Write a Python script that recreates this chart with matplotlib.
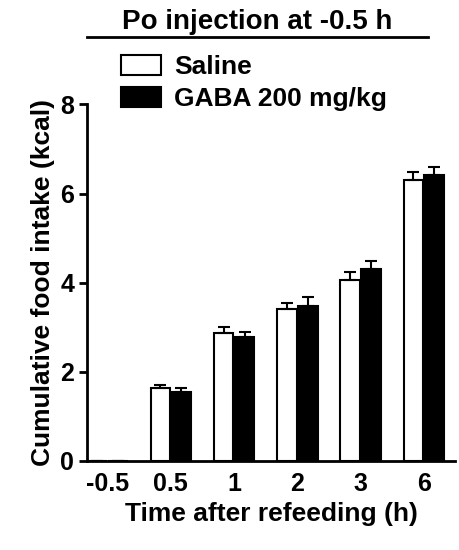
import matplotlib
matplotlib.use("Agg")
import matplotlib.pyplot as plt
import numpy as np
from matplotlib.lines import Line2D

times = ["-0.5", "0.5", "1", "2", "3", "6"]
saline = [0.0, 1.63, 2.88, 3.42, 4.06, 6.30]
saline_err = [0.0, 0.08, 0.12, 0.12, 0.18, 0.18]
gaba = [0.0, 1.55, 2.78, 3.48, 4.30, 6.42]
gaba_err = [0.0, 0.08, 0.12, 0.20, 0.18, 0.18]

plt.rcParams["font.family"] = ["Liberation Sans", "DejaVu Sans"]
plt.rcParams["font.weight"] = "bold"

fig = plt.figure(figsize=(4.6, 5.5), dpi=100)
ax = fig.add_axes([0.19, 0.162, 0.80, 0.648])

x = np.arange(len(times))
w = 0.31
err_kw = dict(ecolor="black", elinewidth=1.5, capsize=4, capthick=1.5)
ax.bar(x - w / 2 - 0.01, saline, w, color="white", edgecolor="black", linewidth=1.5,
       yerr=[np.zeros(len(x)), saline_err], error_kw=err_kw, label="Saline")
ax.bar(x + w / 2 + 0.01, gaba, w, color="black", edgecolor="black", linewidth=1.5,
       yerr=[np.zeros(len(x)), gaba_err], error_kw=err_kw, label="GABA 200 mg/kg")

ax.set_xlim(-0.32, 5.5)
ax.set_ylim(0, 8)
ax.set_yticks([0, 2, 4, 6, 8])
ax.set_xticks(x, times)
ax.tick_params(labelsize=18, width=2, length=6)
ax.tick_params(axis="x", length=0, pad=8)
for s in ("top", "right"):
    ax.spines[s].set_visible(False)
for s in ("left", "bottom"):
    ax.spines[s].set_linewidth(2)
ax.set_xlabel("Time after refeeding (h)", fontsize=19, fontweight="bold", labelpad=4)
ax.set_ylabel("Cumulative food intake (kcal)", fontsize=19, fontweight="bold", labelpad=4)

fig.text(0.56, 0.96, "Po injection at -0.5 h", ha="center", va="center",
         fontsize=20, fontweight="bold")
fig.add_artist(Line2D([0.19, 0.93], [0.932, 0.932], color="black", lw=2,
                      transform=fig.transFigure))
fig.legend(loc="upper left", bbox_to_anchor=(0.24, 0.92), frameon=False,
           fontsize=19, handlelength=1.5, handleheight=0.8, borderaxespad=0,
           handletextpad=0.5, labelspacing=0.3)

fig.savefig("out.png", dpi=100)
